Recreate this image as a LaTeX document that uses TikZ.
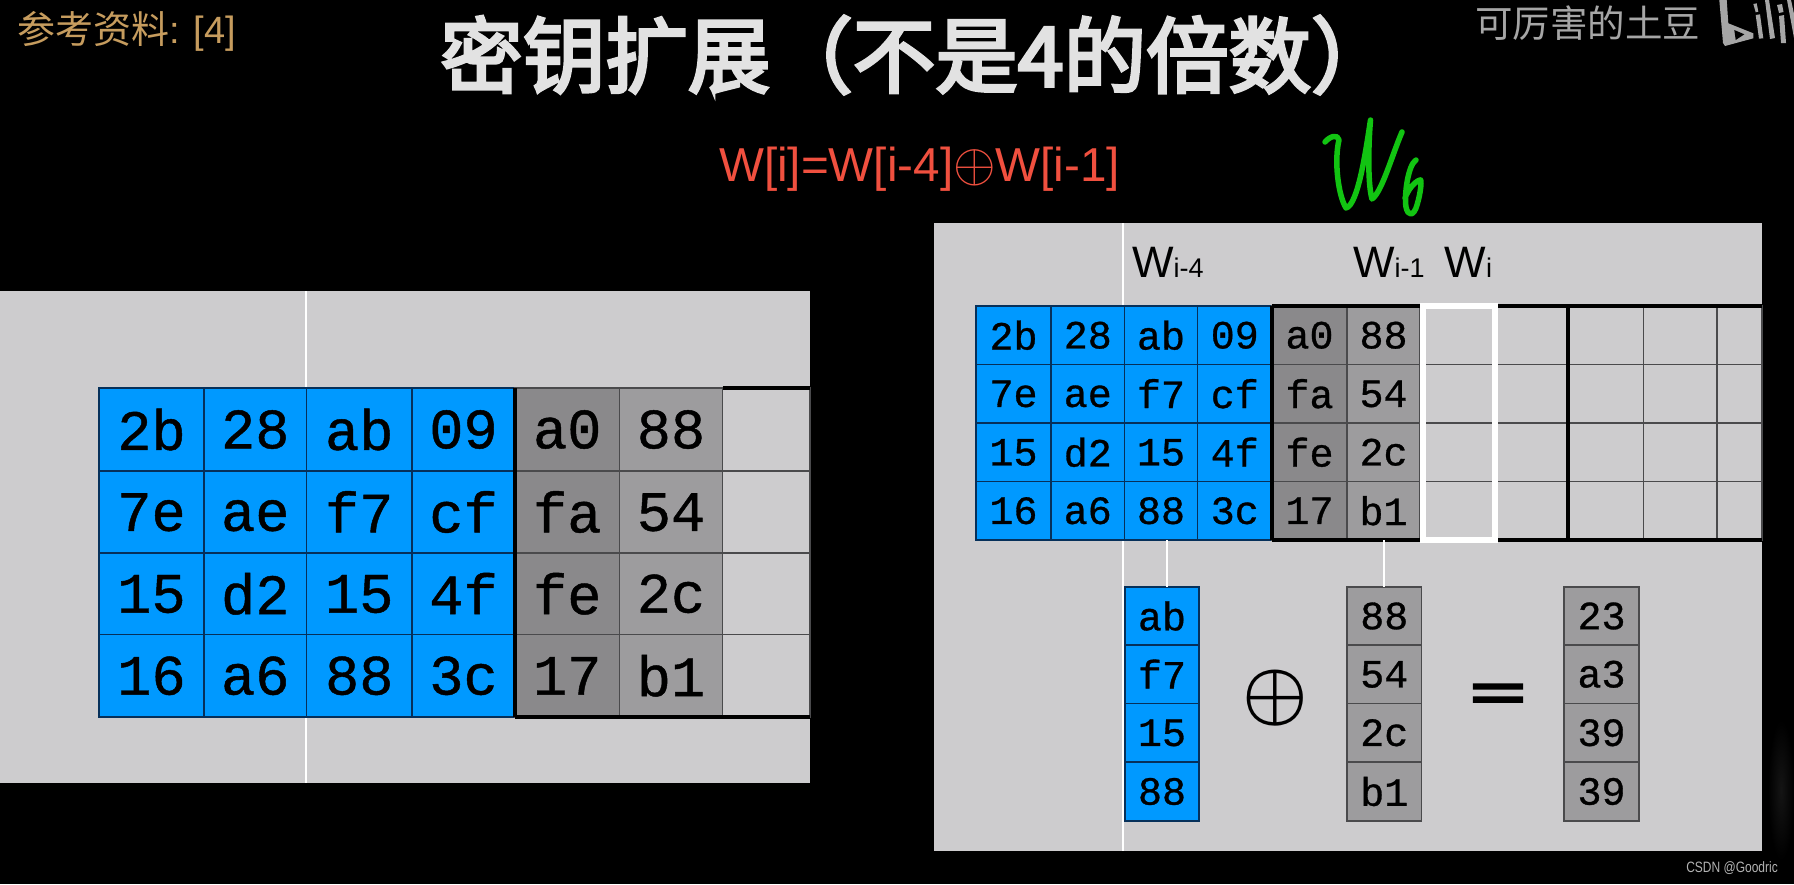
\documentclass[tikz,border=0pt]{standalone}
\usepackage{graphicx}
\usepackage{fontspec}
\setmainfont{Liberation Sans}
\newfontfamily\cjkfont{Noto Sans CJK SC}
\newfontfamily\titlefont[RawFeature={embolden=3.8}]{Noto Sans CJK SC}
\newfontfamily\cellfont[RawFeature={embolden=0.8}]{Liberation Mono}
\newfontfamily\eqfont[RawFeature={embolden=5}]{Liberation Sans}
\definecolor{keyblue}{HTML}{0099FF}
\definecolor{greydark}{HTML}{8A898B}
\definecolor{greymid}{HTML}{9D9C9E}
\definecolor{panelgrey}{HTML}{CDCCCE}
\definecolor{gridline}{HTML}{4A4A4C}
\definecolor{blueline}{HTML}{06305A}
\definecolor{refgold}{HTML}{C69C5E}
\definecolor{formulared}{HTML}{F0503F}
\definecolor{titlegrey}{HTML}{E2E2E2}
\definecolor{markgrey}{HTML}{A6A6A6}
\definecolor{penGreen}{HTML}{12C412}
\usetikzlibrary{calc,fit}
\newcommand{\fsz}[1]{\fontsize{#1}{#1}\selectfont}
\tikzset{
  cellbase/.style={rectangle,inner sep=0pt,outer sep=0pt,draw,line width=1.6pt},
  bluecell/.style={cellbase,fill=keyblue,draw=blueline},
  darkcell/.style={cellbase,fill=greydark,draw=gridline},
  midcell/.style={cellbase,fill=greymid,draw=gridline},
  emptycell/.style={cellbase,fill=panelgrey,draw=gridline},
  thickrule/.style={black,line width=3.6pt,line cap=butt},
  whiterule/.style={white,line width=2pt},
  labeltext/.style={inner sep=0pt,outer sep=0pt,anchor=base west,black},
}
% name x1 y1 x2 y2 style fontsize text
\newcommand{\cellbox}[8]{%
  \path let \p1=(#2,#3), \p2=(#4,#5) in
    node[#6,minimum width=\x2-\x1,minimum height=\y1-\y2,
         font=\cellfont\fsz{#7}] (#1) at ($(#2,#3)!.5!(#4,#5)$) {\raisebox{-1.5pt}{\vphantom{0}#8}};}
\begin{document}
\begin{tikzpicture}[x=1pt,y=-1pt]
\useasboundingbox (0,0) rectangle (1794,884);
\fill[black] (0,0) rectangle (1794,884);
\shade[inner color=black!92!white,outer color=black] (1768,720) rectangle (1794,860);

% ---------- panels ----------
\fill[panelgrey] (0,291) rectangle (810,783);
\fill[panelgrey] (934,223) rectangle (1762,851);
\coordinate (ltop) at (306,291);
\coordinate (lbot) at (306,783);
\coordinate (rtop) at (1123,223);
\coordinate (rbot) at (1123,851);
\draw[whiterule] (ltop) -- (lbot);
\draw[whiterule] (rtop) -- (rbot);

% ---------- left grid ----------
\def\lfs{57}
\cellbox{La1}{99}{388}{204}{471}{bluecell}{\lfs}{2b}
\cellbox{La2}{204}{388}{306.5}{471}{bluecell}{\lfs}{28}
\cellbox{La3}{306.5}{388}{412}{471}{bluecell}{\lfs}{ab}
\cellbox{La4}{412}{388}{515}{471}{bluecell}{\lfs}{09}
\cellbox{Lb1}{99}{471}{204}{553}{bluecell}{\lfs}{7e}
\cellbox{Lb2}{204}{471}{306.5}{553}{bluecell}{\lfs}{ae}
\cellbox{Lb3}{306.5}{471}{412}{553}{bluecell}{\lfs}{f7}
\cellbox{Lb4}{412}{471}{515}{553}{bluecell}{\lfs}{cf}
\cellbox{Lc1}{99}{553}{204}{634.5}{bluecell}{\lfs}{15}
\cellbox{Lc2}{204}{553}{306.5}{634.5}{bluecell}{\lfs}{d2}
\cellbox{Lc3}{306.5}{553}{412}{634.5}{bluecell}{\lfs}{15}
\cellbox{Lc4}{412}{553}{515}{634.5}{bluecell}{\lfs}{4f}
\cellbox{Ld1}{99}{634.5}{204}{717}{bluecell}{\lfs}{16}
\cellbox{Ld2}{204}{634.5}{306.5}{717}{bluecell}{\lfs}{a6}
\cellbox{Ld3}{306.5}{634.5}{412}{717}{bluecell}{\lfs}{88}
\cellbox{Ld4}{412}{634.5}{515}{717}{bluecell}{\lfs}{3c}
\cellbox{La5}{515}{388}{619.5}{471}{darkcell}{\lfs}{a0}
\cellbox{La6}{619.5}{388}{722.5}{471}{midcell}{\lfs}{88}
\cellbox{Lb5}{515}{471}{619.5}{553}{darkcell}{\lfs}{fa}
\cellbox{Lb6}{619.5}{471}{722.5}{553}{midcell}{\lfs}{54}
\cellbox{Lc5}{515}{553}{619.5}{634.5}{darkcell}{\lfs}{fe}
\cellbox{Lc6}{619.5}{553}{722.5}{634.5}{midcell}{\lfs}{2c}
\cellbox{Ld5}{515}{634.5}{619.5}{717}{darkcell}{\lfs}{17}
\cellbox{Ld6}{619.5}{634.5}{722.5}{717}{midcell}{\lfs}{b1}
\cellbox{La7}{722.5}{388}{810}{471}{emptycell}{\lfs}{}
\cellbox{Lb7}{722.5}{471}{810}{553}{emptycell}{\lfs}{}
\cellbox{Lc7}{722.5}{553}{810}{634.5}{emptycell}{\lfs}{}
\cellbox{Ld7}{722.5}{634.5}{810}{717}{emptycell}{\lfs}{}
\draw[thickrule] (La7.north west) -- (La7.north east);
\draw[thickrule] (Ld5.south west) -- (Ld7.south east);
\draw[thickrule] (La5.north west) -- (Ld5.south west);

% ---------- right grid ----------
\def\rfs{40}
\cellbox{Ra1}{976}{306}{1051}{364.5}{bluecell}{\rfs}{2b}
\cellbox{Ra2}{1051}{306}{1124.5}{364.5}{bluecell}{\rfs}{28}
\cellbox{Ra3}{1124.5}{306}{1197.5}{364.5}{bluecell}{\rfs}{ab}
\cellbox{Ra4}{1197.5}{306}{1272}{364.5}{bluecell}{\rfs}{09}
\cellbox{Rb1}{976}{364.5}{1051}{423}{bluecell}{\rfs}{7e}
\cellbox{Rb2}{1051}{364.5}{1124.5}{423}{bluecell}{\rfs}{ae}
\cellbox{Rb3}{1124.5}{364.5}{1197.5}{423}{bluecell}{\rfs}{f7}
\cellbox{Rb4}{1197.5}{364.5}{1272}{423}{bluecell}{\rfs}{cf}
\cellbox{Rc1}{976}{423}{1051}{481.5}{bluecell}{\rfs}{15}
\cellbox{Rc2}{1051}{423}{1124.5}{481.5}{bluecell}{\rfs}{d2}
\cellbox{Rc3}{1124.5}{423}{1197.5}{481.5}{bluecell}{\rfs}{15}
\cellbox{Rc4}{1197.5}{423}{1272}{481.5}{bluecell}{\rfs}{4f}
\cellbox{Rd1}{976}{481.5}{1051}{540}{bluecell}{\rfs}{16}
\cellbox{Rd2}{1051}{481.5}{1124.5}{540}{bluecell}{\rfs}{a6}
\cellbox{Rd3}{1124.5}{481.5}{1197.5}{540}{bluecell}{\rfs}{88}
\cellbox{Rd4}{1197.5}{481.5}{1272}{540}{bluecell}{\rfs}{3c}
\cellbox{Ra5}{1272}{306}{1347}{364.5}{darkcell}{\rfs}{a0}
\cellbox{Ra6}{1347}{306}{1420}{364.5}{midcell}{\rfs}{88}
\cellbox{Rb5}{1272}{364.5}{1347}{423}{darkcell}{\rfs}{fa}
\cellbox{Rb6}{1347}{364.5}{1420}{423}{midcell}{\rfs}{54}
\cellbox{Rc5}{1272}{423}{1347}{481.5}{darkcell}{\rfs}{fe}
\cellbox{Rc6}{1347}{423}{1420}{481.5}{midcell}{\rfs}{2c}
\cellbox{Rd5}{1272}{481.5}{1347}{540}{darkcell}{\rfs}{17}
\cellbox{Rd6}{1347}{481.5}{1420}{540}{midcell}{\rfs}{b1}
% empty columns
\foreach \nm/\xa/\xb in {7/1423/1495,8/1495/1568,9/1568/1643.5,10/1643.5/1717,11/1717/1762}{
  \cellbox{Ra\nm}{\xa}{306}{\xb}{364.5}{emptycell}{\rfs}{}
  \cellbox{Rb\nm}{\xa}{364.5}{\xb}{423}{emptycell}{\rfs}{}
  \cellbox{Rc\nm}{\xa}{423}{\xb}{481.5}{emptycell}{\rfs}{}
  \cellbox{Rd\nm}{\xa}{481.5}{\xb}{540}{emptycell}{\rfs}{}
}
\draw[thickrule] (Ra5.north west) -- (Ra11.north east);
\draw[thickrule] (Rd5.south west) -- (Rd11.south east);
\draw[thickrule] (Ra5.north west) -- (Rd5.south west);
\draw[thickrule] (Ra9.north west) -- (Rd9.south west);
\node[draw=white,line width=5.5pt,fill=none,inner sep=0pt,outer sep=0pt,fit=(Ra7)(Rd7)] (wibox) {};

% ---------- extracted columns ----------
\def\cfs{40}
\cellbox{Sa}{1125}{587}{1199}{645}{bluecell}{\cfs}{ab}
\cellbox{Sb}{1125}{645}{1199}{703.5}{bluecell}{\cfs}{f7}
\cellbox{Sc}{1125}{703.5}{1199}{762}{bluecell}{\cfs}{15}
\cellbox{Sd}{1125}{762}{1199}{821}{bluecell}{\cfs}{88}
\cellbox{Ta}{1347}{587}{1421.5}{645}{midcell}{\cfs}{88}
\cellbox{Tb}{1347}{645}{1421.5}{703.5}{midcell}{\cfs}{54}
\cellbox{Tc}{1347}{703.5}{1421.5}{762}{midcell}{\cfs}{2c}
\cellbox{Td}{1347}{762}{1421.5}{821}{midcell}{\cfs}{b1}
\cellbox{Ua}{1564}{587}{1639}{645}{midcell}{\cfs}{23}
\cellbox{Ub}{1564}{645}{1639}{703.5}{midcell}{\cfs}{a3}
\cellbox{Uc}{1564}{703.5}{1639}{762}{midcell}{\cfs}{39}
\cellbox{Ud}{1564}{762}{1639}{821}{midcell}{\cfs}{39}
\draw[whiterule] ([xshift=6pt]Rd3.south) -- ([xshift=6pt]Rd3.south |- Sa.north);
\draw[whiterule] (Rd6.south) -- (Rd6.south |- Ta.north);

% operators
\node[inner sep=0pt,black] (xorsign) at (1275.7,698) {\scalebox{2.95}{\fsz{25}\boldmath$\oplus$}};
\node[inner sep=0pt,font=\eqfont\fsz{94}] (eqsign) at (1498,697.5) {\scalebox{1}[.56]{=}};

% ---------- labels ----------
\node[labeltext] (wim4) at (1132,277) {\fsz{44}W\fsz{27}i-4};
\node[labeltext] (wim1) at (1353,277) {\fsz{44}W\fsz{27}i-1};
\node[labeltext] (wi) at (1444.5,277) {\fsz{44}W\fsz{27}i};

\node[inner sep=0pt,anchor=west,text=refgold] (refnote) at (17,31)
  {\cjkfont\fsz{38}参考资料\fontspec{Liberation Sans}\fsz{38}: [4]};
\node[inner sep=0pt,anchor=center,text=titlegrey,font=\titlefont\fsz{82.5}] (titletext) at (917,55)
  {密钥扩展（不是4的倍数）};
\node[inner sep=0pt,anchor=base west,text=formulared] (formula) at (719,181)
  {\fsz{47.6}W[i]=W[i-4]\scalebox{2.2}{\fsz{25}$\oplus$}W[i-1]};
\node[inner sep=0pt,anchor=west,text=markgrey,font=\cjkfont\fsz{37.5}] (mark) at (1475,23)
  {可厉害的土豆};
\node[inner sep=0pt,anchor=east,text=white!70!black] (csdn) at (1778,868) {\scalebox{.8}[1]{\fsz{15}CSDN @Goodric}};

% ---------- bilibili mark ----------
\fill[markgrey] (1719.3,0) -- (1726.7,0) -- (1728.3,23.3) -- (1753.3,33.3) -- (1753.3,38.3) -- (1725,46) -- (1723,43) -- cycle;
\fill[black] (1734.3,30) -- (1744.3,34.3) -- (1735.7,40) -- cycle;
\fill[markgrey] (1753.3,4) -- (1756.7,3.3) -- (1758.3,11.7) -- (1755.7,12.3) -- cycle;
\fill[markgrey] (1755.7,15) -- (1760,14.3) -- (1763.3,38.3) -- (1759,38.7) -- cycle;
\fill[markgrey] (1765,0) -- (1769,0) -- (1775,38) -- (1770,39) -- cycle;
\fill[markgrey] (1777,5) -- (1782,4) -- (1783.5,12) -- (1779,13) -- cycle;
\fill[markgrey] (1779,16) -- (1784,15) -- (1786,43) -- (1781,43) -- cycle;
\fill[markgrey] (1787,0) -- (1791,0) -- (1794,14) -- (1794,38) -- cycle;

% ---------- handwritten W6 ----------
\draw[penGreen,line width=5.5pt,line cap=round,line join=round]
  (1325,142) .. controls (1330,136) and (1338,134) .. (1339,140)
  .. controls (1334,160) and (1338,195) .. (1346,208)
  .. controls (1358,205) and (1366,150) .. (1370.5,120)
  .. controls (1368,150) and (1368,185) .. (1372,199)
  .. controls (1382,192) and (1392,155) .. (1402,132);
\draw[penGreen,line width=5.5pt,line cap=round,line join=round]
  (1416,160) .. controls (1408,165) and (1404,195) .. (1406,207)
  .. controls (1408,217) and (1414,216) .. (1417,205)
  .. controls (1421,192) and (1422,178) .. (1420,180)
  .. controls (1414,182) and (1408,190) .. (1405,198);
\end{tikzpicture}
\end{document}
